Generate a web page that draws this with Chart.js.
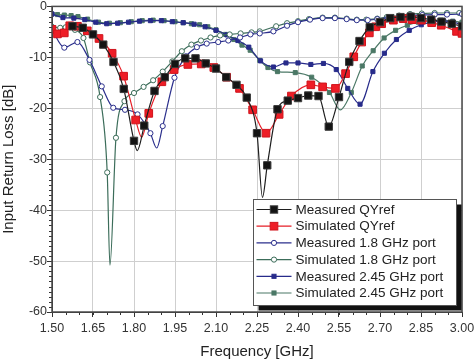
<!DOCTYPE html>
<html>
<head>
<meta charset="utf-8">
<script src="https://cdn.jsdelivr.net/npm/chart.js@4.4.0/dist/chart.umd.min.js"></script>
<style>
  html, body { margin: 0; padding: 0; background: #fff; }
  #wrap { width: 474px; height: 361px; }
</style>
</head>
<body>
<div id="wrap"><canvas id="chart" width="474" height="361"></canvas></div>
<script>
// Legend labels
const seriesLabels = ['Measured QYref', 'Simulated QYref', 'Measured 1.8 GHz port',
  'Simulated 1.8 GHz port', 'Measured 2.45 GHz port', 'Simulated 2.45 GHz port'];

// Measured QYref
const measQyGHz = [1.575, 1.6125, 1.65, 1.6875, 1.725, 1.7625, 1.80, 1.8375, 1.875, 1.9125,
  1.95, 1.9875, 2.025, 2.0625, 2.10, 2.1375, 2.175, 2.2125, 2.25, 2.2875,
  2.325, 2.3625, 2.40, 2.4375, 2.475, 2.5125, 2.55, 2.5875, 2.625, 2.6625,
  2.70, 2.7375, 2.775, 2.8125, 2.85, 2.8875, 2.925, 2.9625, 3.00];
const measQyDb = [-3.9, -4.2, -5.5, -7.5, -10.9, -16.2, -26.4, -23.4, -16.6, -13.9,
  -11.3, -10.2, -10.2, -11.2, -12.2, -13.9, -15.4, -17.9, -24.9, -31.2,
  -20.2, -18.5, -18.0, -17.5, -17.6, -23.6, -17.8, -10.9, -6.8, -4.1,
  -3.1, -2.3, -2.1, -2.0, -2.3, -2.6, -3.0, -3.4, -3.9];
// curve minima between markers
const measQyDipGHz = [1.812, 2.270];
const measQyDipDb = [-28.3, -37.5];

// Simulated QYref
const simQyGHz = [1.50, 1.52, 1.545, 1.565, 1.593, 1.629, 1.672, 1.72, 1.762, 1.806,
  1.854, 1.902, 1.947, 1.997, 2.046, 2.092, 2.139, 2.186, 2.234, 2.283,
  2.331, 2.376, 2.447, 2.49, 2.537, 2.574, 2.604, 2.633, 2.661, 2.684,
  2.706, 2.749, 2.785, 2.818, 2.852, 2.889, 2.924, 2.98, 3.00];
const simQyDb = [-4.5, -5.4, -5.2, -3.8, -3.9, -4.8, -6.3, -9.2, -13.7, -22.3,
  -21.0, -14.8, -12.4, -11.4, -11.3, -12.0, -13.9, -16.1, -20.3, -24.9,
  -21.2, -17.6, -15.4, -15.8, -16.1, -13.2, -9.9, -7.0, -5.2, -4.0,
  -3.4, -2.7, -2.4, -2.6, -2.7, -3.2, -3.7, -4.9, -5.3];
const simQyDipGHz = [1.828];
const simQyDipDb = [-25.7];

// Measured 1.8 GHz port
const meas18GHz = [1.50, 1.545, 1.593, 1.637, 1.682, 1.724, 1.767, 1.813, 1.86, 1.905,
  1.948, 1.99, 2.03, 2.066, 2.108, 2.145, 2.188, 2.226, 2.26, 2.31,
  2.36, 2.40, 2.444, 2.49, 2.535, 2.578, 2.615, 2.655, 2.69, 2.73,
  2.77, 2.81, 2.855, 2.90, 2.945, 3.00];
const meas18Db = [-4.6, -8.1, -7.0, -10.5, -15.7, -19.9, -20.3, -21.2, -24.9, -23.5,
  -14.0, -9.8, -8.0, -7.3, -7.0, -6.7, -6.1, -5.5, -5.3, -4.9,
  -3.8, -3.1, -2.6, -2.3, -2.3, -2.5, -2.7, -2.7, -2.5, -2.2,
  -2.0, -1.8, -1.7, -1.6, -1.6, -1.5];
const meas18DipGHz = [1.883];
const meas18DipDb = [-27.8];

// Simulated 1.8 GHz port
const sim18GHz = [1.50, 1.53, 1.55, 1.584, 1.615, 1.639, 1.676, 1.702, 1.734, 1.765,
  1.80, 1.835, 1.87, 1.905, 1.94, 1.975, 2.01, 2.045, 2.08, 2.115,
  2.15, 2.19, 2.23, 2.26, 2.32, 2.36, 2.40, 2.44, 2.49, 2.535,
  2.578, 2.615, 2.65, 2.69, 2.725, 2.77, 2.81, 2.853, 2.90, 2.945, 2.99];
const sim18Db = [-4.0, -4.2, -4.1, -4.6, -6.2, -11.0, -17.8, -32.6, -25.8, -18.6,
  -17.0, -15.8, -14.5, -12.8, -10.8, -8.8, -7.5, -6.7, -6.1, -5.7,
  -5.5, -5.3, -5.1, -4.9, -3.9, -3.3, -2.9, -2.5, -2.2, -2.2,
  -2.4, -2.6, -2.6, -2.4, -2.1, -1.8, -1.5, -1.4, -1.3, -1.3, -1.3];
const sim18DipGHz = [1.712];
const sim18DipDb = [-50.8];

// Measured 2.45 GHz port
const meas245GHz = [1.50, 1.54, 1.58, 1.62, 1.66, 1.70, 1.74, 1.78, 1.82, 1.86,
  1.90, 1.94, 1.98, 2.02, 2.06, 2.10, 2.14, 2.18, 2.22, 2.263,
  2.31, 2.356, 2.40, 2.447, 2.493, 2.54, 2.582, 2.627, 2.674, 2.716,
  2.76, 2.807, 2.851, 2.891, 2.933, 2.967, 3.00];
const meas245Db = [-1.5, -2.2, -2.3, -2.6, -3.1, -3.4, -3.3, -3.1, -2.9, -2.8,
  -2.8, -3.0, -3.2, -3.5, -4.0, -4.7, -5.6, -6.7, -8.0, -10.7,
  -11.9, -11.1, -11.1, -11.4, -11.2, -12.4, -16.1, -19.2, -12.8, -9.2,
  -6.5, -4.7, -3.6, -3.1, -2.9, -3.1, -3.6];

// Simulated 2.45 GHz port
const sim245GHz = [1.50, 1.52, 1.545, 1.57, 1.595, 1.63, 1.67, 1.71, 1.75, 1.79,
  1.83, 1.87, 1.91, 1.95, 1.98, 2.01, 2.04, 2.07, 2.10, 2.135,
  2.165, 2.195, 2.225, 2.26, 2.29, 2.325, 2.39, 2.45, 2.515, 2.595,
  2.635, 2.675, 2.715, 2.757, 2.80, 2.84, 2.883, 2.923, 2.966, 3.00];
const sim245Db = [-1.5, -1.6, -1.7, -1.8, -2.0, -2.5, -3.1, -3.3, -3.2, -3.0,
  -2.8, -2.7, -2.8, -3.0, -3.2, -3.4, -3.6, -4.0, -4.6, -5.5,
  -6.5, -7.6, -8.6, -10.6, -12.0, -12.8, -13.0, -13.9, -16.9, -16.9,
  -11.7, -8.7, -6.2, -4.7, -3.7, -3.1, -2.7, -2.7, -2.9, -3.1];
const sim245DipGHz = [2.555];
const sim245DipDb = [-20.3];

// Axis ranges
const freqMin = 1.5, freqMax = 3.0, freqStep = 0.15, freqMinorStep = 0.05;
const dbMin = -60, dbMax = 0, dbStep = 10, dbMinorStep = 1;

function toPoints(xs, ys, dipXs, dipYs) {
  const pts = xs.map((x, i) => ({x: x, y: ys[i], dip: false}));
  (dipXs || []).forEach((x, i) => pts.push({x: x, y: dipYs[i], dip: true}));
  return pts.sort((a, b) => a.x - b.x);
}

// Marker / line style for each series
const looks = [
  {line: '#1e1e1e', fill: '#141414', edge: '#3a3a3a', shape: 'rect', r: 5.2},
  {line: '#e61e27', fill: '#ee1d26', edge: '#d0141c', shape: 'rect', r: 5.4},
  {line: '#2b2f8c', fill: '#ffffff', edge: '#2b2f8c', shape: 'circle', r: 2.6},
  {line: '#3c6d5a', fill: '#ffffff', edge: '#3c6d5a', shape: 'circle', r: 2.6},
  {line: '#272b8a', fill: '#272b8a', edge: '#272b8a', shape: 'rect', r: 2.9},
  {line: '#4b7866', fill: '#4b7866', edge: '#4b7866', shape: 'rect', r: 2.9}
];

const seriesData = [
  toPoints(measQyGHz, measQyDb, measQyDipGHz, measQyDipDb),
  toPoints(simQyGHz, simQyDb, simQyDipGHz, simQyDipDb),
  toPoints(meas18GHz, meas18Db, meas18DipGHz, meas18DipDb),
  toPoints(sim18GHz, sim18Db, sim18DipGHz, sim18DipDb),
  toPoints(meas245GHz, meas245Db),
  toPoints(sim245GHz, sim245Db, sim245DipGHz, sim245DipDb)
];

const datasets = seriesData.map((data, i) => {
  const lk = looks[i];
  return {
    label: seriesLabels[i],
    data: data,
    borderColor: lk.line,
    borderWidth: 1.2,
    backgroundColor: lk.fill,
    pointStyle: lk.shape,
    pointBackgroundColor: lk.fill,
    pointBorderColor: lk.edge,
    pointBorderWidth: 1,
    pointRadius: ctx => (ctx.raw && ctx.raw.dip) ? 0 : lk.r,
    pointHoverRadius: ctx => (ctx.raw && ctx.raw.dip) ? 0 : lk.r,
    cubicInterpolationMode: 'monotone',
    fill: false
  };
});

// Minor ticks + plot frame
const decorPlugin = {
  id: 'decor',
  afterDraw(chart) {
    const ctx = chart.ctx;
    const a = chart.chartArea;
    const xs = chart.scales.x, ys = chart.scales.y;
    ctx.save();
    ctx.strokeStyle = '#333';
    ctx.lineWidth = 1;
    ctx.beginPath();
    for (let k = 0; k <= Math.round((freqMax - freqMin) / freqMinorStep); k++) {
      const px = Math.round(xs.getPixelForValue(freqMin + k * freqMinorStep)) + 0.5;
      ctx.moveTo(px, a.bottom);
      ctx.lineTo(px, a.bottom + 3);
    }
    for (let k = 0; k <= Math.round((dbMax - dbMin) / dbMinorStep); k++) {
      const py = Math.round(ys.getPixelForValue(dbMin + k * dbMinorStep)) + 0.5;
      ctx.moveTo(a.left - 3, py);
      ctx.lineTo(a.left, py);
    }
    ctx.stroke();
    ctx.strokeStyle = '#4a4a4a';
    ctx.lineWidth = 1.5;
    ctx.strokeRect(a.left, a.top, a.right - a.left, a.bottom - a.top);
    ctx.restore();
  }
};

// Boxed legend with drop shadow inside the plot
const legendPlugin = {
  id: 'boxLegend',
  afterDraw(chart) {
    const ctx = chart.ctx;
    const bx = 253.5, by = 199.5, bw = 203, bh = 106;
    ctx.save();
    ctx.fillStyle = '#111';
    ctx.fillRect(bx + 5, by + 5, bw, bh);
    ctx.fillStyle = '#fff';
    ctx.fillRect(bx, by, bw, bh);
    ctx.strokeStyle = '#555';
    ctx.lineWidth = 1;
    ctx.strokeRect(bx, by, bw, bh);
    ctx.font = '13.5px "Liberation Sans", Arial, sans-serif';
    ctx.textBaseline = 'middle';
    ctx.textAlign = 'left';
    chart.data.datasets.forEach((ds, i) => {
      const lk = looks[i];
      const y = by + 10 + i * 16.7;
      ctx.strokeStyle = lk.line;
      ctx.lineWidth = 1.2;
      ctx.beginPath();
      ctx.moveTo(bx + 3, y);
      ctx.lineTo(bx + 38, y);
      ctx.stroke();
      const mx = bx + 20.5;
      ctx.fillStyle = lk.fill;
      ctx.strokeStyle = lk.edge;
      ctx.lineWidth = 1;
      if (lk.shape === 'rect') {
        const s = lk.r * Math.SQRT1_2;
        ctx.fillRect(mx - s, y - s, 2 * s, 2 * s);
        ctx.strokeRect(mx - s, y - s, 2 * s, 2 * s);
      } else {
        ctx.beginPath();
        ctx.arc(mx, y, lk.r, 0, Math.PI * 2);
        ctx.fill();
        ctx.stroke();
      }
      ctx.fillStyle = '#222';
      ctx.fillText(ds.label, bx + 42, y + 0.5);
    });
    ctx.restore();
  }
};

const fontFamily = '"Liberation Sans", Arial, sans-serif';

new Chart(document.getElementById('chart').getContext('2d'), {
  type: 'line',
  data: {datasets: datasets},
  options: {
    responsive: false,
    animation: false,
    devicePixelRatio: 1,
    layout: {padding: {top: 5, right: 12, left: 0, bottom: 0}},
    plugins: {legend: {display: false}, tooltip: {enabled: false}},
    scales: {
      x: {
        type: 'linear',
        min: freqMin,
        max: freqMax,
        afterFit: s => { s.height = 49; s.paddingLeft = 0; s.paddingRight = 0; },
        ticks: {
          stepSize: freqStep,
          callback: v => v.toFixed(2),
          color: '#333',
          font: {family: fontFamily, size: 12.5},
          padding: 4,
          maxRotation: 0,
          autoSkip: false
        },
        grid: {color: '#cfcfcf', lineWidth: 1, tickColor: '#333', tickLength: 5},
        border: {display: true, color: '#333', width: 1},
        title: {
          display: true, text: 'Frequency [GHz]', color: '#222',
          font: {family: fontFamily, size: 15}, padding: {top: 0, bottom: 0}
        }
      },
      y: {
        min: dbMin,
        max: dbMax,
        afterFit: s => { s.width = 52; s.paddingTop = 0; s.paddingBottom = 0; },
        ticks: {
          stepSize: dbStep,
          color: '#333',
          font: {family: fontFamily, size: 12.5},
          padding: 0
        },
        grid: {color: '#cfcfcf', lineWidth: 1, tickColor: '#333', tickLength: 5},
        border: {display: true, color: '#333', width: 1},
        title: {
          display: true, text: 'Input Return Loss [dB]', color: '#222',
          font: {family: fontFamily, size: 15}, padding: {top: 0, bottom: 0}
        }
      }
    }
  },
  plugins: [decorPlugin, legendPlugin]
});
</script>
</body>
</html>
